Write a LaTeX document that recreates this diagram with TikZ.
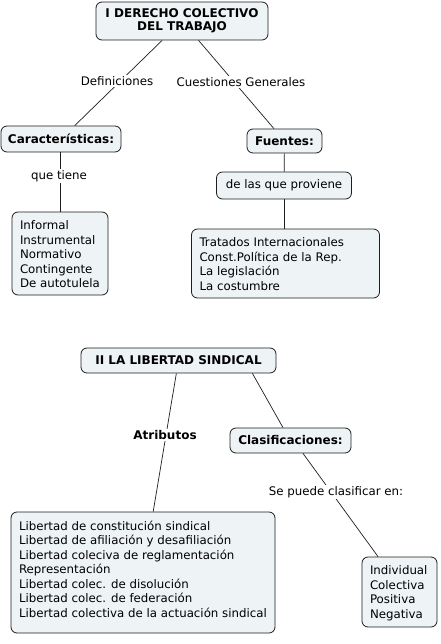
\documentclass[tikz,border=0pt]{standalone}
\usepackage{fontspec}
\setmainfont{DejaVu Sans}
\definecolor{boxfill}{RGB}{238,243,245}
\definecolor{linec}{RGB}{30,30,30}
\newcommand{\listbox}[3]{\parbox[c][#1][t]{#2}{\vspace*{3pt}\raggedright #3}}
\begin{document}
\begin{tikzpicture}[x=1pt,y=-1pt,
  box/.style={draw=linec, fill=boxfill, rounded corners=6pt, line width=0.8pt,
    inner sep=0pt, font=\fontsize{11.8}{14.5}\selectfont},
  lbox/.style={box, inner xsep=8pt, inner ysep=6pt},
  bbox/.style={box, font=\fontsize{12}{13.5}\selectfont\bfseries},
  lab/.style={fill=white, inner sep=1.5pt, font=\fontsize{11.8}{13}\selectfont},
  conn/.style={draw=linec, line width=0.7pt}]
\useasboundingbox[fill=white] (0,0) rectangle (440,644);

% nodes
\node[bbox, minimum width=172pt, minimum height=38pt, align=center] (top) at (182,21) {I DERECHO COLECTIVO\\DEL TRABAJO};
\node[bbox, minimum width=120pt, minimum height=26pt] (car) at (61,139) {Características:};
\node[bbox, minimum width=75pt, minimum height=24pt] (fue) at (284.5,141) {Fuentes:};
\node[box, minimum width=135pt, minimum height=27pt] (dlq) at (284,185.5) {de las que proviene};
\node[lbox] (inf) at (60,253.5)
  {\listbox{71pt}{80pt}{\mbox{Informal}\\\mbox{Instrumental}\\\mbox{Normativo}\\\mbox{Contingente}\\\mbox{De autotulela}}};
\node[lbox] (tra) at (285.5,263.5)
  {\listbox{57pt}{172pt}{\mbox{Tratados Internacionales}\\\mbox{Const.Política de la Rep.}\\\mbox{La legislación}\\\mbox{La costumbre}}};
\node[bbox, minimum width=195pt, minimum height=25pt] (lib) at (178.5,360.5) {II LA LIBERTAD SINDICAL};
\node[bbox, minimum width=121pt, minimum height=25pt] (cla) at (290.5,440.5) {Clasificaciones:};
\node[lbox] (att) at (143,572.5)
  {\listbox{109pt}{248pt}{%
   \mbox{Libertad de constitución sindical}\\
   \mbox{Libertad de afiliación y desafiliación}\\
   \mbox{Libertad coleciva de reglamentación}\\
   \mbox{Representación}\\
   \mbox{Libertad colec. de disolución}\\
   \mbox{Libertad colec. de federación}\\
   \mbox{Libertad colectiva de la actuación sindical}}};
\node[lbox] (ind) at (399.5,592)
  {\listbox{58pt}{59pt}{\mbox{Individual}\\\mbox{Colectiva}\\\mbox{Positiva}\\\mbox{Negativa}}};

% connectors
\draw[conn] (top) -- (car);
\draw[conn] (top) -- (fue);
\draw[conn] (car.south -| inf.north) -- (inf);
\draw[conn] (fue) -- (dlq);
\draw[conn] (dlq.south) -- (tra.north -| dlq.south);
\draw[conn] (lib) -- (att);
\draw[conn] ([xshift=-24pt]lib.south east) -- ([xshift=-7.5pt]cla.north);
\draw[conn] ([xshift=12.5pt]cla.south) -- ([xshift=-21.5pt]ind.north);

% labels
\node[lab] (def) at (117,81) {Definiciones};
\node[lab] (cue) at (241,82) {Cuestiones Generales};
\node[lab] (que) at (59,176) {que tiene};
\node[lab, font=\fontsize{12}{13}\selectfont\bfseries] (atr) at (165,435) {Atributos};
\node[lab] (sep) at (336,492) {Se puede clasificar en:};
\end{tikzpicture}
\end{document}
